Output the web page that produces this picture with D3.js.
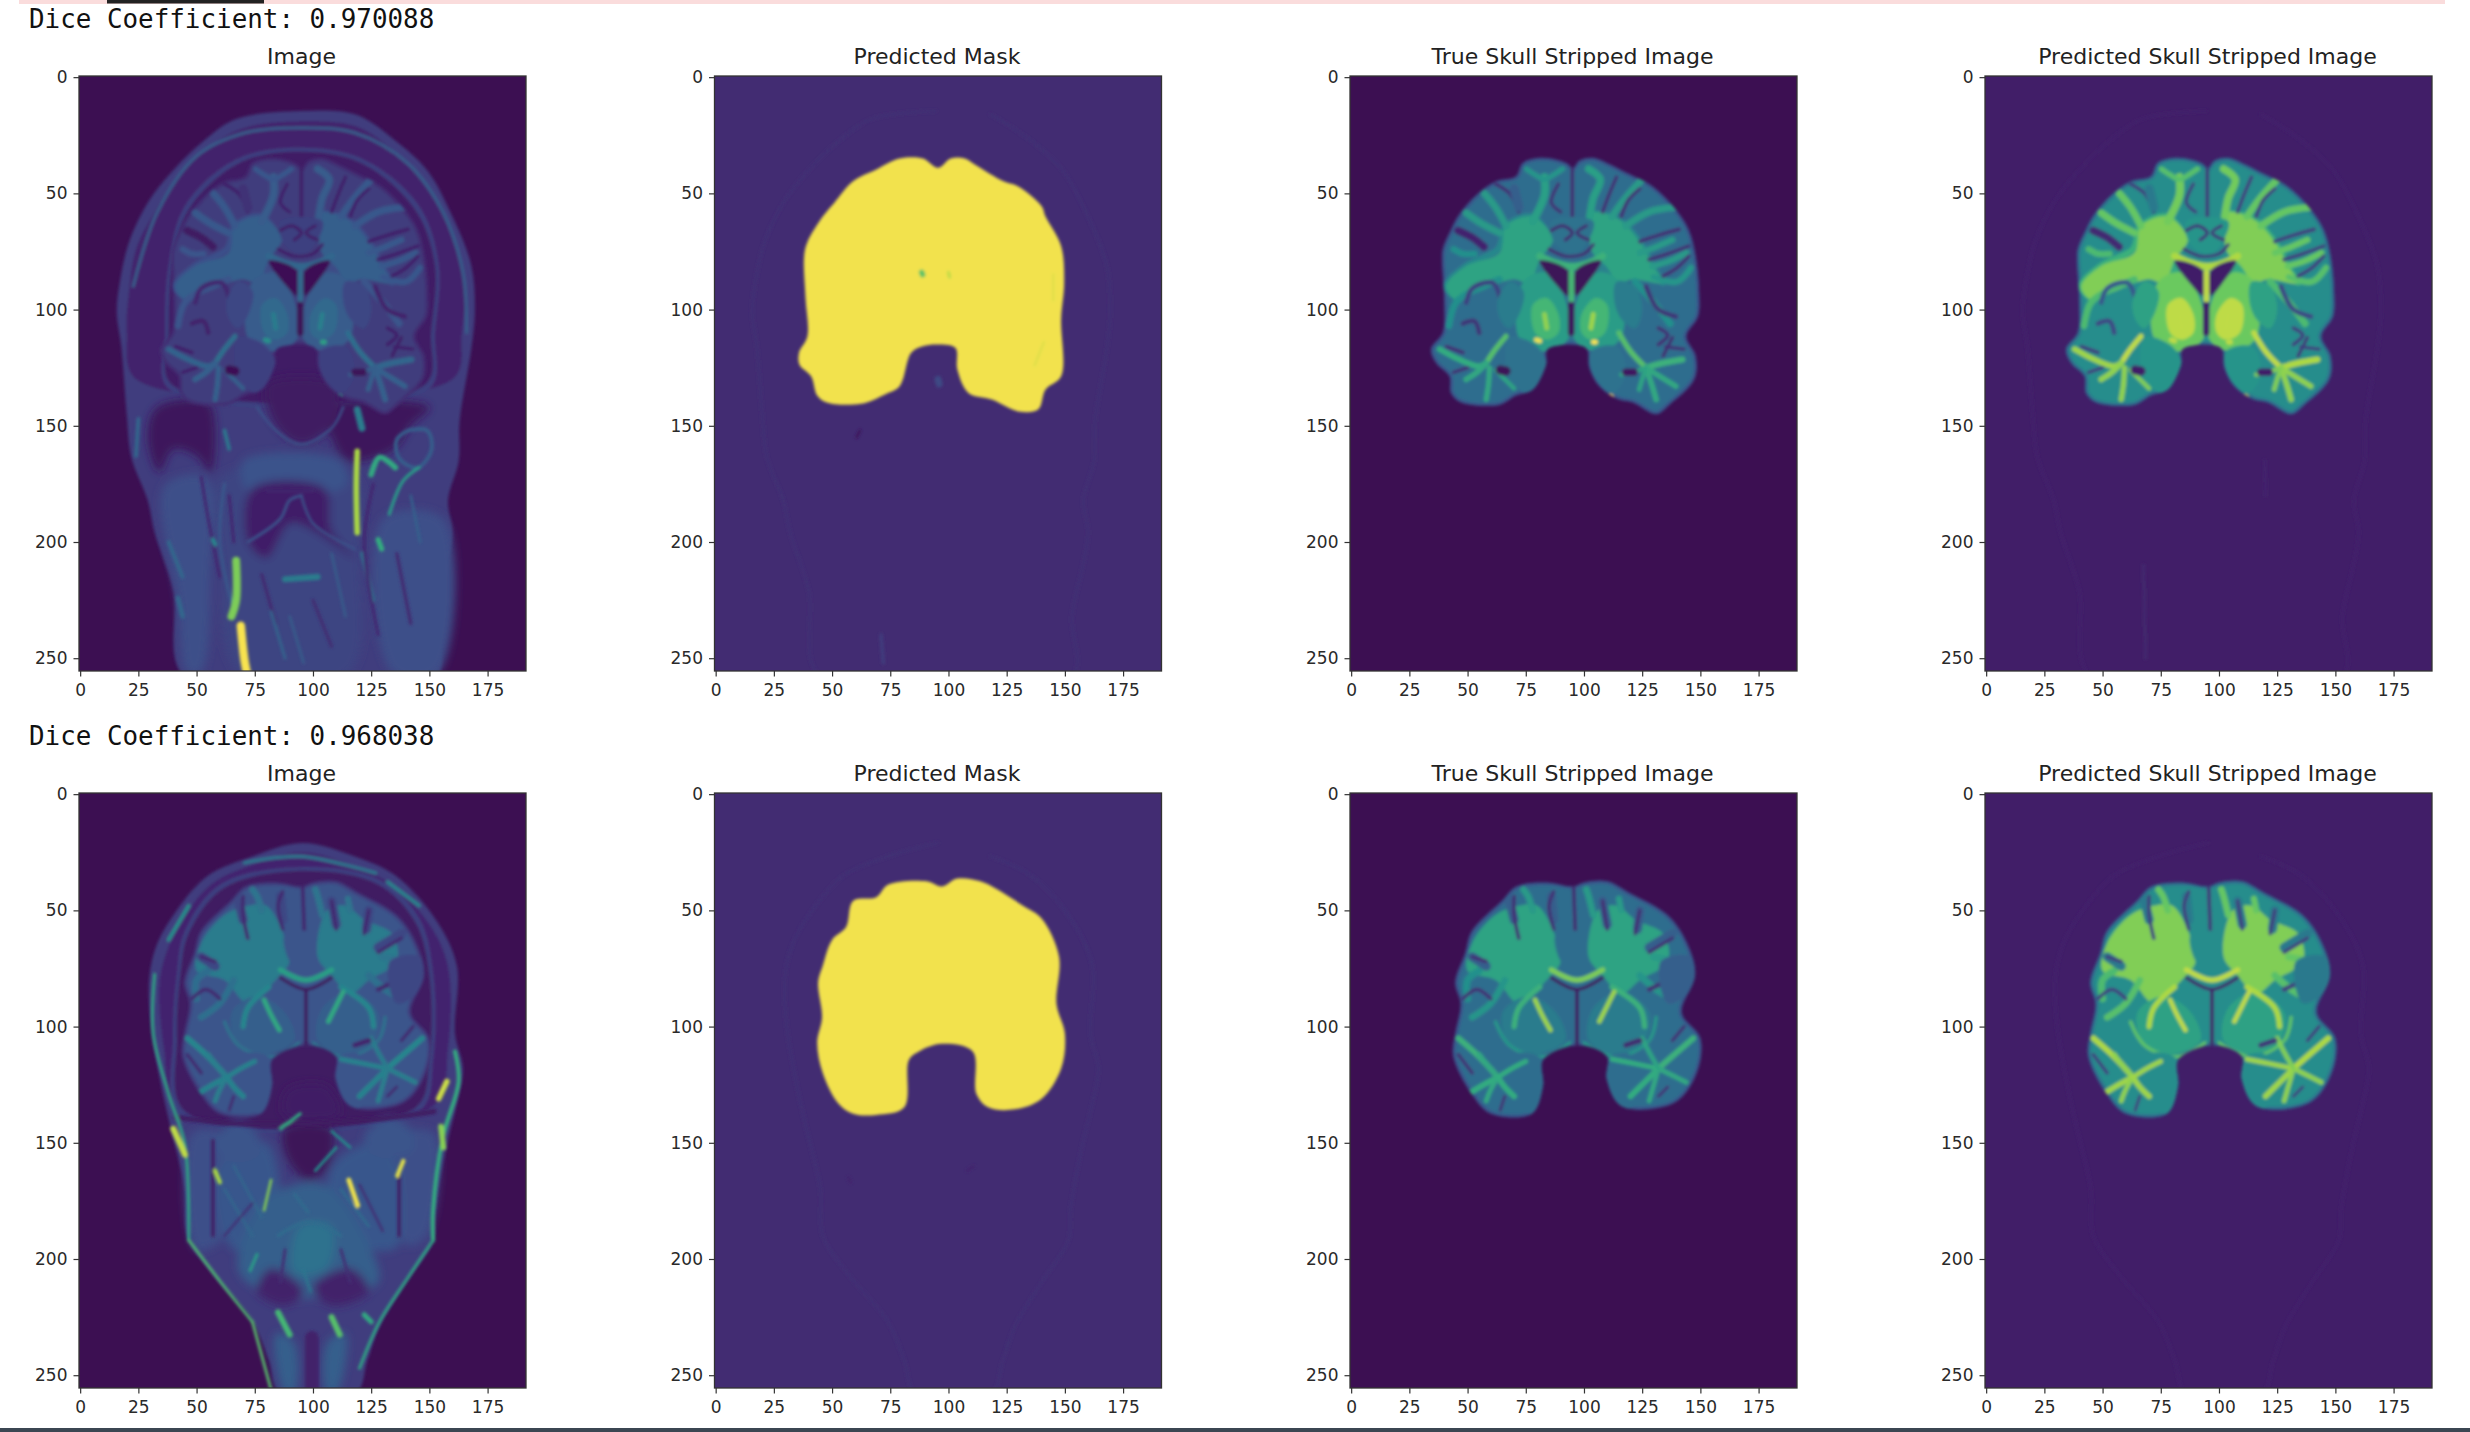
<!DOCTYPE html>
<html>
<head>
<meta charset="utf-8">
<script src="https://cdn.jsdelivr.net/npm/d3@7"></script>
<style>
  html, body { margin: 0; padding: 0; background: #fff; }
  svg { display: block; }
  .tick text { font-family: "DejaVu Sans", sans-serif; font-size: 17px; fill: #2a2a2a; }
  .tick line { stroke: #333; stroke-width: 1.2px; }
  .title { font-family: "DejaVu Sans", sans-serif; font-size: 22px; fill: #222; text-anchor: middle; }
  .dice { font-family: "DejaVu Sans Mono", monospace; font-size: 25.9px; fill: #111; }
</style>
</head>
<body>
<svg id="fig" width="2470" height="1432"></svg>
<script>
// image size and ticks, as in the imshow axes
const xTicks = [0, 25, 50, 75, 100, 125, 150, 175];
const yTicks = [0, 50, 100, 150, 200, 250];
const panelTitles = ['Image', 'Predicted Mask', 'True Skull Stripped Image', 'Predicted Skull Stripped Image'];
const diceScores = ['0.970088', '0.968038'];

// colour map (viridis, washed a little by the screenshot)
const cmapStops = [0, .08, .14, .25, .37, .5, .62, .75, .87, 1];
const cmapColors = ['#3c0f52', '#42206b', '#422d73', '#3b528b', '#2e6f8e', '#24908c', '#33ad7f', '#6cc95f', '#aed943', '#f8e34f'];

// every layer below is [intensity, stroke width (0 = filled), outline in pixel coords]
const topBrainOutline = [[95.4,39],[92.3,36.9],[82.3,34.7],[73.7,36.9],[70.8,42.6],[62.2,44.8],[53.6,51],[46.5,59],[42.9,65.6],[39.3,74.2],[39.3,84.2],[40,97],[39.3,110],[34.3,117],[36.5,123],[42.2,128.7],[42.9,136],[47.2,140],[63.7,141],[70.8,137],[78,134.4],[83.7,123.7],[84.4,117],[100.9,116.5],[102.3,125],[106.6,133],[115,138.7],[121,140],[131,145],[136.6,141],[147.4,130],[148,120],[144,111.5],[149,103],[149.5,93],[148,77],[145,65.6],[139.5,57],[129.5,47],[118,41],[110,37],[103.7,34.7],[98,36]];
const botBrainOutline = [[95.3,39.7],[84,38],[71,39.7],[64.7,46],[51.8,59],[49,68.3],[44.7,81],[47,90.4],[44.7,103],[43.8,112.5],[51.8,129],[60,137.5],[77.6,137.5],[82.4,125.5],[82.4,114.4],[97,108],[109.8,112.7],[109.8,122.7],[116.2,134.3],[138.8,132.8],[148.4,120],[150,105],[142,94],[147.8,77.5],[143.6,62.7],[135.5,51.7],[119.4,42.4],[110,37.5],[100,38]];
const topMaskOutline = [[95.5,39],[89,35],[79,35],[69,39.7],[59,44.8],[51,54],[46,60],[39.4,71],[38,77],[38.6,95],[39.4,111.5],[35.8,118.6],[36,123.7],[41,128.7],[43.6,137],[47.7,140],[62.5,140.5],[72.5,136.6],[79,133],[84,118.6],[89,115.8],[95.5,115],[103,116.5],[103.8,125.8],[108.7,136],[118.6,138.7],[130,143.8],[138.5,143],[141.7,134.4],[148.4,128.7],[148.4,104],[149.7,88.5],[148.4,72.7],[141.7,60],[140,55.5],[130,47],[123.6,44.8],[112,38],[107,35],[101,35]];
const botMaskOutline = [[97.2,39.7],[90.6,37.5],[74,39],[69,44.3],[59,46],[56,57.2],[50,62.7],[46,73.8],[44,81],[45.7,96],[43.6,107],[46,120],[52.6,133],[59,137.5],[69,138],[81,134.7],[83,114.4],[87.3,110.7],[97.2,107.4],[110.4,110.7],[112,129],[117,134.7],[128.5,135.6],[140,131],[148.4,118],[150,103],[146.4,90.4],[147.5,70],[140,53.5],[132,48],[120.3,40.6],[113.7,37.5],[103.8,36.3]];
const topHeadOutline = [[94.5,14.6],[67,18],[53.5,27],[40,40],[29.7,53],[21,71],[17,88.5],[15.7,101],[17.7,116],[20,145],[22,163.5],[29,182],[32,196],[40,221],[45,258],[153,258],[153,232],[157.5,211],[160,196],[158,182],[162.6,165],[163,148],[168,117],[169.5,101],[168,81],[159,58],[149,40],[135,27],[118,16]];
const botHeadOutline = [[95.3,21],[74,26.8],[55,35],[41.6,49.8],[33,64.6],[29.7,79],[30.5,99.6],[34.8,125],[39,144],[45,170],[46,190],[57,206.6],[74,227],[81,243.5],[86,258],[118.3,258],[123.4,243.5],[128.6,228.8],[140,210],[151.5,192],[152.4,179],[157.5,151],[161.8,133],[164.4,118],[161,103],[161.8,73.8],[152.4,53.5],[135.4,35],[118,26.8]];

const topBrainLayers = [
  [.44, 0, [[76,84],[82,79],[90,88],[86,96],[78,92]]],
  [.44, 0, [[113,84],[107,79],[99,88],[103,96],[111,92]]],
  [.47, 2.4, [[45,95],[40.8,90],[49.4,81],[63,74],[66.5,64],[78,60],[86,70]]],
  [.47, 2.4, [[103.7,58.4],[115,61.3],[125.2,72.7],[129.5,81.3],[134,88.5]]],
  [.58, 0, [[66.5,64],[78,60],[86.5,70],[81,78.5],[76.5,88.5],[69.4,87],[53.6,92.8],[45,95.7],[40.8,90],[49.4,81.3],[63.7,75.6]]],
  [.58, 0, [[103.7,58.4],[115,61.3],[125.2,72.7],[129.5,81.3],[134,88.5],[121,87],[115,88.5],[109.4,81.3],[103.7,75.6],[102.3,68.4]]],
  [.56, 3.4, [[78,62],[83,51],[83,43]]],
  [.52, 2.2, [[75.3,39.5],[79,42],[83,44],[87,42],[90.8,39.5]]],
  [.54, 3, [[66.5,64],[62,56],[57.2,50]]],
  [.54, 3, [[49.4,58.4],[56,63],[63.7,67]]],
  [.5, 2.6, [[44,74],[48,76],[53,76]]],
  [.56, 3.2, [[102.5,60],[104,52],[107,44],[102,39.5]]],
  [.54, 3, [[112,60],[117,53],[125,44]]],
  [.54, 3, [[118,64],[128,58],[139,56]]],
  [.54, 2.6, [[124,75.6],[131,73],[138,70]]],
  [.54, 2.6, [[129.5,81.3],[137,79],[144,75.6]]],
  [.52, 2.6, [[130,86],[140,88],[146,82]]],
  [.5, 3, [[122,88],[130,97],[137,106]]],
  [.5, 2.8, [[63.7,87],[52,92],[45,97],[42,107]]],
  // sulci
  [.14, 1.5, [[72,58],[68,50],[62,46]]],
  [.14, 1.4, [[90,58],[86,54],[89,46]]],
  [.12, 1.5, [[95,39],[95,62]]],
  [.14, 1.5, [[116,60],[119,53],[124,48]]],
  [.14, 1.5, [[108,58],[111,50],[114,43]]],
  [.14, 1.6, [[124,70.7],[132,68],[140.9,65.5]]],
  [.14, 1.6, [[128,78.5],[136,76],[145,72.7]]],
  [.14, 1.6, [[134,85.6],[140,82],[145,77]]],
  [.16, 2, [[126.6,90],[132,100],[139.5,103]]],
  [.1, 3.4, [[46,66],[52,69],[57,73]]],
  [.3, 2.8, [[58,45],[52,52]]],
  [.3, 4, [[70,48],[72,56]]],
  [.2, 2, [[49.4,97],[52.2,90.7],[60.8,88.5],[63.7,94]]],
  [.16, 2, [[48,106],[53,105],[55,110]]],
  [.14, 1.6, [[132,108],[136,111],[132,115]]],
  [.12, 1.4, [[138,112],[134,120]]],
  // cingulate patch with its dark folds
  [.38, 0, [[86,62],[104,62],[102,70],[96,76],[88,72]]],
  [.12, 1.4, [[86,66],[91,64],[95,67],[92,70]]],
  [.12, 1.4, [[101,64],[97,67],[102,70]]],
  [.12, 1.3, [[85,74],[92,77],[100,76],[104,72]]],
  // deep grey nuclei
  [.55, 0, [[74,88],[84,84],[92,96],[93,113],[82,118],[72,112]]],
  [.55, 0, [[115,88],[106,84],[97,96],[96,113],[106,118],[116,112]]],
  [.66, 0, [[78,98],[84,95],[89,102],[89,110],[84,113],[79,110]]],
  [.66, 0, [[110,98],[105,95],[99,102],[99,110],[103,113],[109,110]]],
  [.82, 2, [[83,102],[84,108]]],
  [.84, 2, [[104,102],[103,108]]],
  [.42, 0, [[64,104],[63,96],[68,88],[74,92],[73,100],[68,108]]],
  [.42, 0, [[114,88],[122,90],[125,100],[122,108],[116,104],[113,96]]],
  [.64, 3, [[81,77],[88,80],[95,81.5],[102,80],[108,77]]],
  // ventricles and midline
  [.02, 0, [[81,79],[93,83],[93,94],[88,89.2]]],
  [.02, 0, [[107.3,79],[96.6,83],[96.6,94],[101.6,88.5]]],
  [.66, 2.4, [[94.6,84],[94.6,96]]],
  [.03, 2.8, [[94.5,98],[94.5,110]]],
  // temporal lobes
  [.38, 0, [[68,112],[80,116],[84,125],[76,136],[68,130]]],
  [.38, 0, [[103,118],[114,116],[118,128],[112,136],[104,128]]],
  [.62, 2.4, [[38,117],[46.5,121.5],[55,124.4],[58,123]]],
  [.14, 1.6, [[41,116],[48,118.5]]],
  [.14, 1.5, [[44,127],[50,125]]],
  [.7, 2.2, [[58,123],[62,117],[66.5,111.5]]],
  [.6, 2.4, [[58,123],[54,127],[49.4,130]]],
  [.6, 2.2, [[59.4,125],[59,132],[58,138.7]]],
  [.58, 1.8, [[62,126],[66,130],[70,134]]],
  [.64, 2.6, [[126.6,125],[134,123],[142.3,121.5]]],
  [.7, 2.2, [[126.6,125],[120,118],[115,110]]],
  [.6, 2.4, [[126.6,125],[129,132],[131,138.7]]],
  [.58, 2, [[126.6,125],[125,130],[123.7,134.4]]],
  [.6, 2.2, [[126.6,125],[133,129],[139.5,133]]],
  [.58, 1.8, [[126.6,125],[121,127],[116,128]]],
  [.14, 1.4, [[135,116],[143,117]]],
  [.02, 4, [[64,126],[66.5,126.5]]],
  [.04, 3.2, [[118,127],[121.5,127]]],
  [.98, 2, [[79.5,113],[81,113.5]]],
  [1.1, 2, [[104,114],[105,114]]],
  [.98, 1.6, [[111.2,137],[112,137.4]]],
];

const botBrainLayers = [
  [.58, 0, [[52,64],[62,52],[72,48],[80,48],[88,62],[90,72],[84,80],[72,90],[62,80],[50,76]]],
  [.58, 0, [[106,50],[114,48],[122,54],[134,60],[136,72],[124,80],[116,86],[108,78],[102,70]]],
  [.54, 2.8, [[78,50],[76,44],[74,41]]],
  [.54, 2.8, [[104,52],[102,44],[101,41]]],
  [.54, 2.6, [[116,50],[115,45]]],
  [.5, 3, [[55,76],[50,80],[50,88]]],
  [.52, 2.8, [[66,80],[60,90],[52,96]]],
  [.54, 3, [[130,70],[140,72]]],
  [.52, 3, [[124,78],[131,84],[138,88]]],
  // sulci, each in a grey ribbon
  [.3, 4, [[70,54],[68,46]]],
  [.3, 4, [[87,54],[86,44]]],
  [.3, 4, [[58,74],[52,70]]],
  [.3, 4, [[110,56],[108,46]]],
  [.3, 4, [[123,58],[124,50]]],
  [.3, 4, [[128,66],[138,60]]],
  [.12, 1.5, [[95.5,38],[96.5,66]]],
  [.14, 1.5, [[72,62],[70,52],[70,44]]],
  [.14, 1.5, [[87,58],[85,48],[87,42]]],
  [.14, 1.5, [[58,72],[52,70]]],
  [.14, 1.5, [[110,58],[108,46]]],
  [.14, 1.5, [[122,60],[124,50]]],
  [.14, 1.5, [[128,68],[138,62]]],
  [.14, 1.5, [[48,88],[54,84],[60,88]]],
  [.14, 2, [[128,84],[136,80],[141,76]]],
  [.3, 0, [[133,72],[146,70],[146,84],[136,90]]],
  [.36, 0, [[88,60],[100,60],[100,72],[96,76],[90,72]]],
  // deep nuclei
  [.42, 0, [[65,94],[76,87],[88,94],[92,106],[80,112],[68,108]]],
  [.42, 0, [[104,92],[116,85],[128,94],[126,106],[114,112],[102,106]]],
  [.53, 1.4, [[62,98],[68,108],[82,113],[94,107]]],
  [.53, 1.4, [[100,107],[114,113],[128,106],[131,96]]],
  [.64, 2.2, [[81,83],[72,92],[70,100]]],
  [.64, 2.2, [[112,83],[124,92],[126,100]]],
  [.84, 1.9, [[79,88.5],[82,95],[85.6,101.5]]],
  [.84, 1.9, [[113,85],[110,91],[106.6,97.8]]],
  [.78, 2.2, [[86,75.6],[97,80],[108,75.6]]],
  [.03, 1.3, [[86,79],[97,84],[108,79]]],
  [.04, 1.5, [[97,84],[97,108]]],
  // temporal lobes
  [.36, 0, [[70,112],[82,114],[82,136],[72,136]]],
  [.36, 0, [[110,114],[120,112],[122,134],[112,134]]],
  [.64, 2.4, [[63,121.8],[55,113],[46,105]]],
  [.6, 2, [[63,121.8],[58,116],[55,112]]],
  [.62, 2.4, [[63,121.8],[57,125],[52,128]]],
  [.62, 2.4, [[63,121.8],[66,126],[70,130]]],
  [.6, 2, [[63,121.8],[60,127],[58,132]]],
  [.62, 2, [[63,121.8],[69,118],[75,115]]],
  [.64, 2.4, [[132,118],[140,111],[147,105]]],
  [.6, 2, [[132,118],[138,121],[144,124]]],
  [.62, 2.4, [[132,118],[126,124],[120,130]]],
  [.6, 2, [[132,118],[130,125],[128,132]]],
  [.62, 2, [[132,118],[122,116],[112,114]]],
  [.58, 2, [[132,118],[128,111],[125,105]]],
  [.14, 1.4, [[46,112],[52,120]]],
  [.14, 1.4, [[138,106],[143,100]]],
  [.12, 2.2, [[118,108],[124,106]]],
  [.14, 1.2, [[66,130],[64,136]]],
  [.14, 1.2, [[136,126],[132,130]]],
];

// Image panel, top row: scalp, skull and neck
const topHeadLayers = [
  [.09, 0, [[94.5,19],[70,22],[54,31],[41,44],[32,58],[24,74],[21,92],[20,110],[24,130],[160,130],[164,110],[165,90],[156,60],[146,44],[134,31],[118,21]]],
  [.3, 1.2, [[22.8,90],[33,58.4],[50,34],[70.6,24],[94.5,21.8],[118,24],[140.5,37],[156,58.4],[164.4,84],[166,110]]],
  [.2, 0, [[36.5,110],[38,81],[45,55.5],[67,35.4],[94.5,30.4],[121.7,35.4],[145.6,55.5],[154,81],[152.4,110],[150,134],[38,134]]],
  [.06, 0, [[38,110],[39.5,81],[46.5,57],[68,37],[94.5,32],[121,37],[144,57],[152.5,81],[150.8,110],[148.5,132],[39,132]]],
];
const topNeckLayers = [
  [.03, 0, [[33,142],[55,140],[58,150],[56,170],[50,163],[40,160],[34,170],[29,155]]],
  [.03, 0, [[106,142],[150,142],[142,150],[135,160],[115,165],[108,155]]],
  [.05, 0, [[80,132],[110,132],[108,150],[95,158],[84,150]]],
  [.26, 1, [[76,142],[84,152],[95,158],[108,151],[113,142]]],
  [.21, 0, [[60,172],[118,172],[120,205],[116,256],[68,256],[60,205]]],
  [.25, 0, [[70,165],[112,165],[114,176],[72,178]]],
  [.24, 0, [[36,176],[54,172],[56,215],[52,256],[46,256],[42,225]]],
  [.24, 0, [[130,190],[156,190],[154,256],[134,256]]],
  [.07, 0, [[74,177],[105,177],[108,195],[118,207],[100,195],[90,192],[80,207],[72,200]]],
  [.26, 1.2, [[72,200],[86,190],[90,182],[95,180]]],
  [.26, 1, [[95,180],[100,192],[118,203]]],
  [.42, 2.6, [[88,216],[102,215]]],
  [.36, 1.6, [[121,205],[126,225]]],
  [.34, 2, [[42,224],[44,232]]],
  [.28, 1.2, [[62,175],[60,200],[66,230]]],
  [.3, 1.6, [[141,152],[149,152],[151,160],[145,168],[137,164],[136,156],[141,152]]],
  [.34, 1.6, [[25,147],[24,163]]],
  [.4, 1.6, [[62,152],[64,160]]],
  [.1, 1.2, [[52,172],[55,190],[60,215]]],
  [.1, 1.2, [[126,175],[122,200],[128,240]]],
  [.12, 1.4, [[78,214],[84,235]]],
  [.12, 1.2, [[100,225],[108,245]]],
  [.12, 1.4, [[136,205],[142,235]]],
  [.1, 1.2, [[64,180],[66,200]]],
  [.12, 1, [[80,178],[100,178]]],
  [.32, 1.2, [[82,230],[88,250]]],
  [.3, 1, [[108,205],[114,232]]],
  [.32, 1, [[142,180],[146,200]]],
  [.3, 1, [[90,232],[96,252]]],
  [.34, 1.6, [[38,200],[44,215]]],
  [.46, 1.8, [[57,199],[58,201]]],
  [.62, 2.2, [[128,199],[129.5,203]]],
  [.42, 3, [[119,143],[121,151]]],
  [.86, 2.4, [[119,161],[118.6,176],[119,196]]],
  [.6, 2.4, [[125,171],[128.6,163.6],[135.4,168]]],
  [.54, 1.4, [[145.6,168],[138.8,173.6],[132.8,188]]],
  [.78, 3.4, [[67,208],[67,225],[65,232]]],
  [1, 3.6, [[69,236],[70.6,251],[72,258]]],
];

// Image panel, bottom row: scalp, skull and face
const botHeadLayers = [
  [.1, 0, [[95,25],[72,31],[56,39],[44,54],[37,68],[34,82],[36,110],[42,134],[152,134],[158,110],[158,74],[150,56],[134,39],[118,31]]],
  [.4, 1.4, [[70.6,29.5],[94.5,26.8],[126.9,34]]],
  [.5, 1.5, [[46.7,48],[38,62.7]]],
  [.45, 1.5, [[132,37.8],[145.6,48]]],
  [.2, 0, [[41.6,77.5],[45,59],[60.4,38.8],[94.5,31.4],[128.6,36.9],[145.6,53.5],[151.6,77.5],[151.6,114],[145.6,136.5],[43.3,138],[39.9,105]]],
  [.05, 0, [[43,77.5],[46.5,60],[61.5,40.5],[94.5,33],[127.5,38.5],[144,55],[150,77.5],[150,114],[144,135],[45,136.5],[41.5,105]]],
];
const faceLayers = [
  [.05, 2.2, [[41,139],[74,142],[125,140],[152,136.5]]],
  [.24, 0, [[48,146],[60,146],[62,190],[50,196]]],
  [.24, 0, [[140,146],[152,146],[149,190],[140,194]]],
  [.27, 0, [[60,160],[80,150],[84,190],[66,196]]],
  [.27, 0, [[108,160],[132,150],[136,195],[112,190]]],
  [.26, 0, [[58,149],[67,140.5],[76,146],[77,155],[68,158.5],[60,155]]],
  [.26, 0, [[122,147],[132,139],[142,144],[143,153],[133,157],[124,154]]],
  [.3, 0, [[78,176],[92,168],[105,168],[122,190],[128,210],[106,216],[84,216],[68,205]]],
  [.38, 0, [[94,186],[108,186],[106,204],[92,206]]],
  [.08, 0, [[82,204],[96,214],[88,220],[76,214]]],
  [.08, 0, [[100,212],[116,204],[124,214],[108,220]]],
  [.02, 0, [[87.6,144],[108,144],[106.5,160.5],[97.9,166],[89.3,157.4]]],
  [.06, 0, [[89,127],[106,125.5],[111.5,138],[87.6,138]]],
  [.3, 0, [[84,232],[92,236],[92,258],[88,258]]],
  [.3, 0, [[106,236],[114,232],[110,258],[106,258]]],
  [.05, 1.4, [[57,149],[57,190]]],
  [.05, 1.4, [[137,162],[137,190]]],
  [.08, 6, [[99.5,234],[99.5,258]]],
  [.34, 1, [[62,170],[74,190]]],
  [.34, 1, [[66,160],[78,182]]],
  [.14, 1, [[62,190],[74,176]]],
  [.36, 1.2, [[85,190],[98,184],[112,190]]],
  [.14, 1.2, [[88,196],[86,210]]],
  [.14, 1.2, [[112,196],[116,210]]],
  [.4, 1, [[96,205],[99,214]]],
  [.36, 1, [[112,170],[124,186]]],
  [.14, 1, [[120,168],[130,188]]],
  [.36, 1, [[92,172],[98,180]]],
  [.6, 1.4, [[86,144],[94.5,137.5]]],
  [.5, 1.1, [[108,145],[116,152]]],
  [.5, 1.2, [[110,152],[101,162]]],
  [.58, 1.3, [[32,77.5],[31.4,103],[38,129],[45,151],[46.6,192]]],
  [.9, 2.6, [[40,144],[45,155]]],
  [.62, 1.7, [[161,110.7],[162.6,123.6],[155.8,147.6],[151.6,179],[151.6,192]]],
  [.92, 2.4, [[157.5,123.6],[154,131]]],
  [.8, 2.4, [[155,143],[156,152]]],
  [.68, 1.2, [[46.7,192],[60.4,210],[74,227]]],
  [.7, 1.2, [[74,227],[82.5,258]]],
  [.58, 1.3, [[151.6,192],[140.5,208.5],[128.6,227],[120,247]]],
  [.98, 2.1, [[115.4,166],[119.2,177]]],
  [.96, 1.8, [[138.8,157.8],[136.2,164.2]]],
  [.8, 1.1, [[82,166],[79,179]]],
  [.86, 1.8, [[58,162],[60,167]]],
  [.66, 2.6, [[85,223],[90,232.5]]],
  [.7, 2.6, [[108,225],[111.5,232.5]]],
  [.6, 2.2, [[122,224],[125,227]]],
  [.55, 1.3, [[73,205],[76,198]]],
];

// faint residue the network leaves in the mask and prediction backgrounds
const topMaskSpecks = [
  [.72, 2.4, [[88.5,84],[88.9,85]]],
  [.9, 1.4, [[100,84],[100.5,86]]],
  [.96, 1.2, [[145,85],[145,96]]],
  [.95, 1, [[141,114],[137,124]]],
  [.22, 3, [[95.5,130],[96,132]]],
  [.03, 1.2, [[60.5,155],[62,152]]],
  [.19, 1.4, [[71,240],[72,252]]],
];
const botMaskSpecks = [
  [.09, 1.2, [[57,165],[58,167]]],
  [.09, 1, [[108,162],[111,160]]],
];
const topPredSpecks = [
  [.12, 1.2, [[67.6,210],[68.5,250]]],
  [.1, 1.2, [[119.7,165],[120,180]]],
];

// layout of the screenshot
const width = 2470, height = 1432;
const colLeft = [79, 714.5, 1350, 1985];
const rowTop = [76, 793];
const axW = 447, axH = 595;
const rowDiceY = [28, 745];

const svg = d3.select('#fig');
const defs = svg.append('defs');
function addBlur(id, dev) {
  defs.append('filter').attr('id', id).attr('x', '-5%').attr('y', '-5%').attr('width', '110%').attr('height', '110%')
    .append('feGaussianBlur').attr('stdDeviation', dev);
}
addBlur('soft', 1.7);
addBlur('softer', 4);

const x = d3.scaleLinear().domain([-0.5, 191.5]).range([0, axW]);
const y = d3.scaleLinear().domain([-0.5, 255.5]).range([0, axH]);
const color = d3.scaleLinear().domain(cmapStops).range(cmapColors).clamp(true);
const closedLine = d3.line().x(d => x(d[0])).y(d => y(d[1])).curve(d3.curveCatmullRomClosed.alpha(0.5));
const openLine = d3.line().x(d => x(d[0])).y(d => y(d[1])).curve(d3.curveCatmullRom.alpha(0.5));

// notebook output clutter along the top and bottom edges
svg.append('rect').attr('x', 19).attr('y', 0).attr('width', 2426).attr('height', 4).attr('fill', '#fadcdc');
svg.append('rect').attr('x', 107).attr('y', 0).attr('width', 157).attr('height', 3.5).attr('fill', '#222');
svg.append('rect').attr('x', 0).attr('y', 1428).attr('width', width).attr('height', 4).attr('fill', '#3b4652');

function drawLayers(g, layers, bg, gain, cap = 1.1) {
  const fill = v => color(Math.min(cap, Math.max(bg, v * gain)));
  g.selectAll(null)
    .data(layers)
    .enter()
    .append('path')
    .attr('d', d => d[1] ? openLine(d[2]) : closedLine(d[2]))
    .attr('fill', d => d[1] ? 'none' : fill(d[0]))
    .attr('stroke', d => d[1] ? fill(d[0]) : 'none')
    .attr('stroke-width', d => d[1] ? x(d[1]) - x(0) : 0)
    .attr('stroke-linecap', 'round')
    .attr('stroke-linejoin', 'round');
}

function drawBrain(g, id, outline, layers, bg, gain, cap) {
  defs.append('clipPath').attr('id', id).append('path').attr('d', closedLine(outline));
  const b = g.append('g').attr('clip-path', `url(#${id})`);
  drawLayers(b, [[.36, 0, outline], [.27, 2.6, outline.concat([outline[0]])]], bg, gain, cap);
  drawLayers(b, layers, bg, gain, cap);
}

function drawPanel(row, col) {
  const g = svg.append('g').attr('transform', `translate(${colLeft[col]},${rowTop[row]})`);
  const clipId = `ax-${row}-${col}`;
  defs.append('clipPath').attr('id', clipId).append('rect').attr('width', axW).attr('height', axH);
  const plot = g.append('g').attr('clip-path', `url(#${clipId})`);
  const bgValue = [0, .135, 0, .07][col];
  plot.append('rect').attr('width', axW).attr('height', axH).attr('fill', color(bgValue));
  const sharp = () => plot.append('g').attr('filter', 'url(#soft)');
  const head = row === 0 ? topHeadOutline : botHeadOutline;
  const outline = row === 0 ? topBrainOutline : botBrainOutline;
  const brainLayers = row === 0 ? topBrainLayers : botBrainLayers;
  const brainId = `br-${row}-${col}`;

  if (col === 0) {
    const tissue = row === 0 ? topNeckLayers : faceLayers;
    const scalp = sharp();
    drawLayers(scalp, [[.19, 0, head]], 0, 1);
    drawLayers(scalp, row === 0 ? topHeadLayers : botHeadLayers, 0, 1);
    drawLayers(plot.append('g').attr('filter', 'url(#softer)'), tissue.filter(d => !d[1]), 0, 1);
    drawLayers(sharp(), tissue.filter(d => d[1]), 0, 1);
    drawBrain(sharp(), brainId, outline, brainLayers, 0, row === 0 ? .52 : .72);
  } else if (col === 1) {
    const m = sharp();
    drawLayers(m, [[.15, 1, head]], 0, 1);
    drawLayers(m, [[.99, 0, row === 0 ? topMaskOutline : botMaskOutline]], 0, 1);
    drawLayers(m, row === 0 ? topMaskSpecks : botMaskSpecks, 0, 1);
  } else if (col === 2) {
    drawBrain(sharp(), brainId, outline, brainLayers, 0, 1);
  } else {
    const p = sharp();
    drawLayers(p, [[.085, 1, head]], 0, 1);
    if (row === 0) drawLayers(p, topPredSpecks, 0, 1);
    drawBrain(p, brainId, outline, brainLayers, .07, 1.36, .9);
  }

  g.append('rect').attr('width', axW).attr('height', axH)
    .attr('fill', 'none').attr('stroke', '#333').attr('stroke-width', 1.3);

  g.append('g').attr('transform', `translate(0,${axH})`)
    .call(d3.axisBottom(x).tickValues(xTicks).tickSize(5.5).tickPadding(7).tickSizeOuter(0))
    .call(a => a.select('.domain').remove());
  g.append('g')
    .call(d3.axisLeft(y).tickValues(yTicks).tickSize(5.5).tickPadding(6).tickSizeOuter(0))
    .call(a => a.select('.domain').remove());

  g.append('text').attr('class', 'title')
    .attr('x', axW / 2 - 1).attr('y', -12)
    .text(panelTitles[col]);
}

rowTop.forEach((_, row) => {
  svg.append('text').attr('class', 'dice')
    .attr('x', 29).attr('y', rowDiceY[row])
    .text('Dice Coefficient: ' + diceScores[row]);
  colLeft.forEach((_, col) => drawPanel(row, col));
});
</script>
</body>
</html>
